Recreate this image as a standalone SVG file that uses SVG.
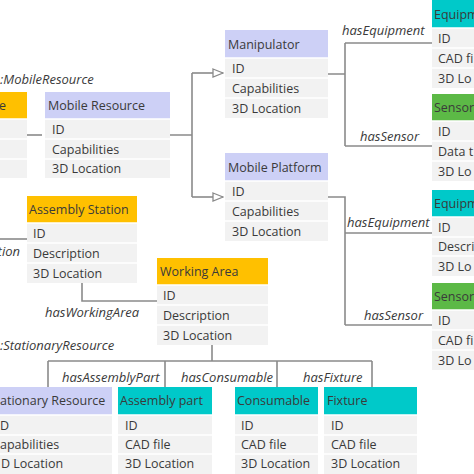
<svg xmlns="http://www.w3.org/2000/svg" width="474" height="474" viewBox="0 0 474 474">
<defs>
<marker id="tri" markerWidth="12" markerHeight="10" refX="11" refY="5" orient="auto" markerUnits="userSpaceOnUse"><path d="M1,1 L11,5 L1,9 Z" fill="#fff" stroke="#8a8a8a" stroke-width="1.3"/></marker>
<style>
.t{font-family:"Open Sans","Noto Sans",sans-serif;font-size:12.5px;fill:#3a3a3a}
.l{font-family:"Open Sans","Noto Sans",sans-serif;font-size:13px;font-style:italic;fill:#3a3a3a}
.body{fill:#f2f2f2}
.sep{stroke:#fff;stroke-width:1.5}
.c{fill:none;stroke:#8a8a8a;stroke-width:1.6}
.blue{fill:#cdd0f6}
.gold{fill:#ffc000}
.teal{fill:#00c9c9}
.green{fill:#5cb946}
</style>
</defs>
<rect width="474" height="474" fill="#fff"/>

<g id="connectors">
<path class="c" d="M27,135 H42"/>
<path class="c" d="M170,135 H192 M192,73 V197"/>
<path class="c" d="M192,73 H223" marker-end="url(#tri)"/>
<path class="c" d="M192,197 H223" marker-end="url(#tri)"/>
<path class="c" d="M328,74 H345 M345,43 V146 M345,43 H432 M345,146 H432"/>
<path class="c" d="M328,197 H345 V325 M345,233 H432 M345,325 H432"/>
<path class="c" d="M0,239 H27"/>
<path class="c" d="M82,283 V301 H157"/>
<path class="c" d="M212,345 V361 M48,361 H372 M48,361 V387 M165,361 V387 M277,361 V387 M372,361 V387"/>
</g>

<g id="labels">
<text class="l" x="0" y="84">:MobileResource</text>
<text class="l" x="342" y="35">hasEquipment</text>
<text class="l" x="360" y="141">hasSensor</text>
<text class="l" x="347" y="227">hasEquipment</text>
<text class="l" x="364" y="320">hasSensor</text>
<text class="l" x="20" y="256" text-anchor="end">ction</text>
<text class="l" x="45" y="317">hasWorkingArea</text>
<text class="l" x="0" y="350">:StationaryResource</text>
<text class="l" x="62" y="382">hasAssemblyPart</text>
<text class="l" x="181" y="382">hasConsumable</text>
<text class="l" x="303" y="382">hasFixture</text>
</g>

<g id="resource-left">
<rect class="gold" x="-5" y="92" width="32" height="27"/>
<rect class="body" x="-5" y="119" width="32" height="59"/>
<path class="sep" d="M-5,119 H27 M-5,139 H27 M-5,159 H27"/>
<text class="t" x="-1" y="110">e</text>
</g>

<g id="mobile-resource">
<rect class="blue" x="45" y="92" width="125" height="27"/>
<rect class="body" x="45" y="119" width="125" height="59"/>
<path class="sep" d="M45,119 H170 M45,139 H170 M45,159 H170"/>
<text class="t" x="48" y="110">Mobile Resource</text>
<text class="t" x="52" y="134">ID</text>
<text class="t" x="52" y="154">Capabilities</text>
<text class="t" x="52" y="173">3D Location</text>
</g>

<g id="manipulator">
<rect class="blue" x="225" y="30" width="103" height="28"/>
<rect class="body" x="225" y="58" width="103" height="60"/>
<path class="sep" d="M225,58 H328 M225,78 H328 M225,98 H328"/>
<text class="t" x="228" y="49">Manipulator</text>
<text class="t" x="232" y="73">ID</text>
<text class="t" x="232" y="93">Capabilities</text>
<text class="t" x="232" y="113">3D Location</text>
</g>

<g id="mobile-platform">
<rect class="blue" x="225" y="153" width="103" height="28"/>
<rect class="body" x="225" y="181" width="103" height="60"/>
<path class="sep" d="M225,181 H328 M225,201 H328 M225,221 H328"/>
<text class="t" x="228" y="172">Mobile Platform</text>
<text class="t" x="232" y="196">ID</text>
<text class="t" x="232" y="216">Capabilities</text>
<text class="t" x="232" y="236">3D Location</text>
</g>

<g id="equipment-1">
<rect class="teal" x="432" y="0" width="50" height="28"/>
<rect class="body" x="432" y="28" width="50" height="60"/>
<path class="sep" d="M432,28 H482 M432,48 H482 M432,68 H482"/>
<text class="t" x="434" y="19">Equipm</text>
<text class="t" x="438" y="43">ID</text>
<text class="t" x="438" y="63">CAD fi</text>
<text class="t" x="438" y="83">3D Lo</text>
</g>

<g id="sensor-1">
<rect class="green" x="432" y="94" width="50" height="27"/>
<rect class="body" x="432" y="121" width="50" height="60"/>
<path class="sep" d="M432,121 H482 M432,141 H482 M432,161 H482"/>
<text class="t" x="434" y="112">Sensor</text>
<text class="t" x="438" y="136">ID</text>
<text class="t" x="438" y="156">Data t</text>
<text class="t" x="438" y="176">3D Lo</text>
</g>

<g id="equipment-2">
<rect class="teal" x="432" y="190" width="50" height="27"/>
<rect class="body" x="432" y="217" width="50" height="59"/>
<path class="sep" d="M432,217 H482 M432,237 H482 M432,256 H482"/>
<text class="t" x="434" y="208">Equipm</text>
<text class="t" x="438" y="232">ID</text>
<text class="t" x="438" y="251">Descri</text>
<text class="t" x="438" y="271">3D Lo</text>
</g>

<g id="sensor-2">
<rect class="green" x="432" y="283" width="50" height="27"/>
<rect class="body" x="432" y="310" width="50" height="60"/>
<path class="sep" d="M432,310 H482 M432,330 H482 M432,350 H482"/>
<text class="t" x="434" y="301">Sensor</text>
<text class="t" x="438" y="325">ID</text>
<text class="t" x="438" y="345">CAD fi</text>
<text class="t" x="438" y="365">3D Lo</text>
</g>

<g id="assembly-station">
<rect class="gold" x="27" y="196" width="110" height="27"/>
<rect class="body" x="27" y="223" width="110" height="60"/>
<path class="sep" d="M27,223 H137 M27,243 H137 M27,263 H137"/>
<text class="t" x="29" y="214">Assembly Station</text>
<text class="t" x="33" y="238">ID</text>
<text class="t" x="33" y="258">Description</text>
<text class="t" x="33" y="278">3D Location</text>
</g>

<g id="working-area">
<rect class="gold" x="157" y="258" width="111" height="27"/>
<rect class="body" x="157" y="285" width="111" height="60"/>
<path class="sep" d="M157,285 H268 M157,305 H268 M157,325 H268"/>
<text class="t" x="160" y="276">Working Area</text>
<text class="t" x="163" y="300">ID</text>
<text class="t" x="163" y="320">Description</text>
<text class="t" x="163" y="340">3D Location</text>
</g>

<g id="stationary-resource">
<rect class="blue" x="-5" y="387" width="117" height="28"/>
<rect class="body" x="-5" y="415" width="117" height="59"/>
<path class="sep" d="M-5,415 H112 M-5,435 H112 M-5,454 H112"/>
<text class="t" x="0" y="405">ationary Resource</text>
<text class="t" x="0" y="430">D</text>
<text class="t" x="0" y="449">apabilities</text>
<text class="t" x="1" y="468">D Location</text>
</g>

<g id="assembly-part">
<rect class="teal" x="118" y="387" width="94" height="28"/>
<rect class="body" x="118" y="415" width="94" height="59"/>
<path class="sep" d="M118,415 H212 M118,435 H212 M118,454 H212"/>
<text class="t" x="120" y="405">Assembly part</text>
<text class="t" x="125" y="430">ID</text>
<text class="t" x="125" y="449">CAD file</text>
<text class="t" x="125" y="468">3D Location</text>
</g>

<g id="consumable">
<rect class="teal" x="235" y="387" width="83" height="28"/>
<rect class="body" x="235" y="415" width="83" height="59"/>
<path class="sep" d="M235,415 H318 M235,435 H318 M235,454 H318"/>
<text class="t" x="237" y="405">Consumable</text>
<text class="t" x="241" y="430">ID</text>
<text class="t" x="241" y="449">CAD file</text>
<text class="t" x="241" y="468">3D Location</text>
</g>

<g id="fixture">
<rect class="teal" x="324" y="387" width="93" height="28"/>
<rect class="body" x="324" y="415" width="93" height="59"/>
<path class="sep" d="M324,415 H417 M324,435 H417 M324,454 H417"/>
<text class="t" x="327" y="405">Fixture</text>
<text class="t" x="331" y="430">ID</text>
<text class="t" x="331" y="449">CAD file</text>
<text class="t" x="331" y="468">3D Location</text>
</g>
</svg>
